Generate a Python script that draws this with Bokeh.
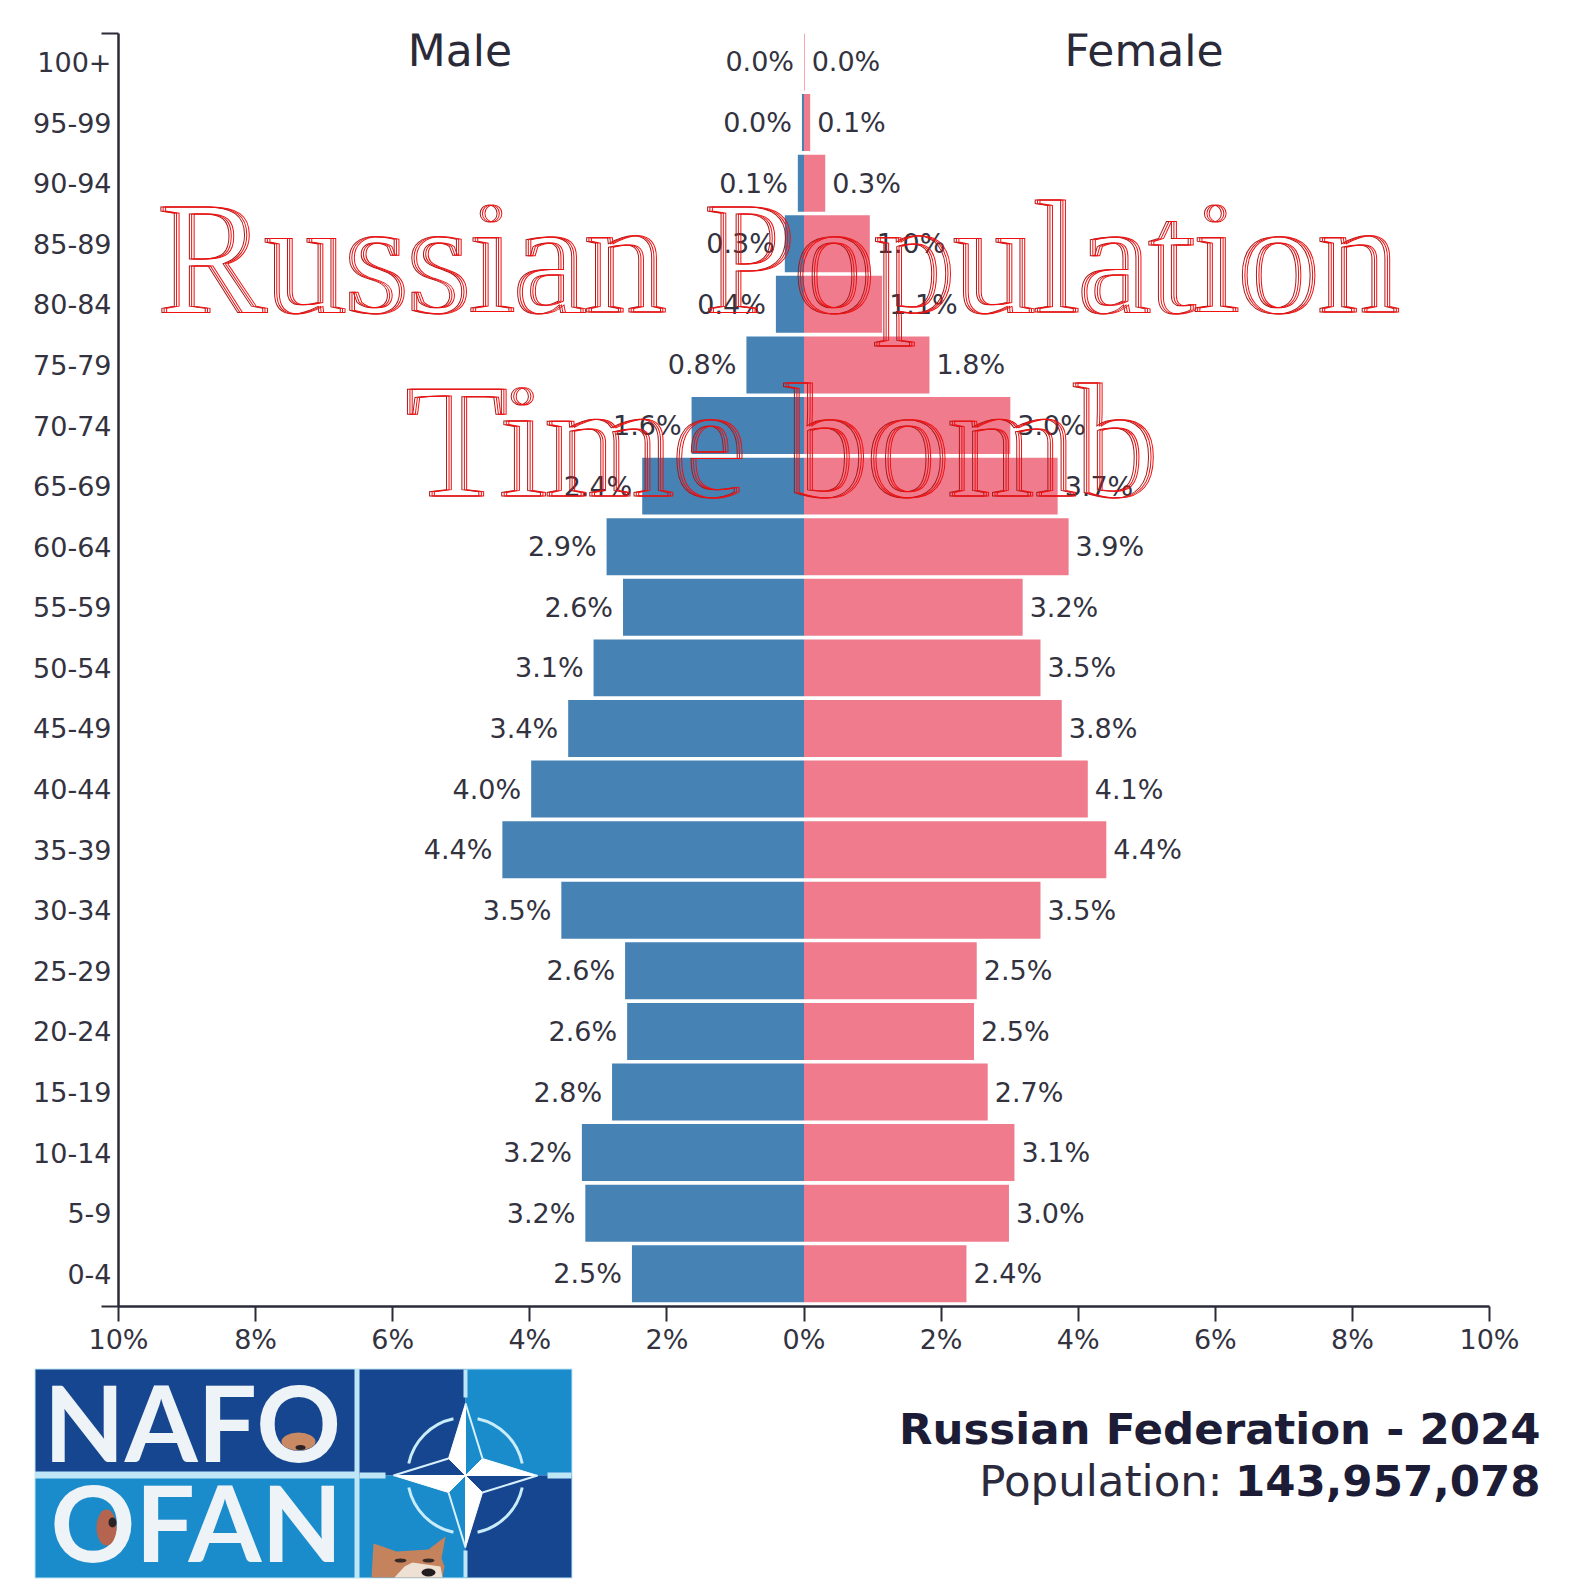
import numpy as np
from bokeh.plotting import figure
from bokeh.layouts import column
from bokeh.models import Range1d, FixedTicker, ColumnDataSource, Label
from bokeh.core.properties import value
from bokeh.embed import file_html
from bokeh.resources import INLINE

ages = ["0-4","5-9","10-14","15-19","20-24","25-29","30-34","35-39","40-44","45-49","50-54",
        "55-59","60-64","65-69","70-74","75-79","80-84","85-89","90-94","95-99","100+"]
male = [2.51,3.19,3.24,2.80,2.58,2.61,3.54,4.40,3.98,3.44,3.07,2.64,2.88,2.36,1.64,0.84,0.41,0.28,0.09,0.03,0.0]
female = [2.37,2.99,3.07,2.68,2.48,2.52,3.45,4.41,4.14,3.76,3.45,3.19,3.86,3.70,3.01,1.83,1.14,0.96,0.31,0.09,0.01]
male_labels = ["2.5%","3.2%","3.2%","2.8%","2.6%","2.6%","3.5%","4.4%","4.0%","3.4%","3.1%","2.6%","2.9%","2.4%","1.6%","0.8%","0.4%","0.3%","0.1%","0.0%","0.0%"]
female_labels = ["2.4%","3.0%","3.1%","2.7%","2.5%","2.5%","3.5%","4.4%","4.1%","3.8%","3.5%","3.2%","3.9%","3.7%","3.0%","1.8%","1.1%","1.0%","0.3%","0.1%","0.0%"]
x_ticks = [-10,-8,-6,-4,-2,0,2,4,6,8,10]
x_tick_labels = ["10%","8%","6%","4%","2%","0%","2%","4%","6%","8%","10%"]
headline = ["Russian Population", "Time bomb"]

FONT = value("DejaVu Sans")
INK = "#33333f"
AXIS = "#2a2a38"
Y0, Y1 = -0.54, 20.47

p = figure(width=1562, height=1357, frame_width=1371, frame_height=1273,
           min_border_left=118, min_border_right=73, min_border_top=33, min_border_bottom=51,
           x_range=Range1d(-10, 10), y_range=Range1d(Y0, Y1), frame_align=False,
           output_backend="svg", toolbar_location=None, outline_line_color=None)
p.grid.visible = False

ys = list(range(len(ages)))
src = ColumnDataSource(dict(y=ys, m=[-v for v in male], f=female, ml=male_labels, fl=female_labels))
p.hbar(y="y", left="m", right=0, height=0.94, source=src, fill_color="#4682b4", line_color=None)
p.hbar(y="y", left=0, right="f", height=0.94, source=src, fill_color="#ef7b8d", line_color=None)
p.text(x="m", y="y", text="ml", source=src, x_offset=-10, text_align="right", text_baseline="middle",
       text_font=FONT, text_font_size="27px", text_color=INK)
p.text(x="f", y="y", text="fl", source=src, x_offset=7, text_align="left", text_baseline="middle",
       text_font=FONT, text_font_size="27px", text_color=INK)
p.text(x=[-5.02, 4.96], y=[20.19, 20.19], text=["Male", "Female"], text_align="center", text_baseline="middle",
       text_font=FONT, text_font_size="44px", text_color="#2a2a38")

# Red outlined headline
for dx, col in [(-0.035, "#a81a1a"), (0.0, "#e81414"), (0.035, "#f01010")]:
    for txt, yy, size, cx in zip(headline, [16.76, 13.74], ["160px", "163px"], [-0.37, -0.32]):
        p.add_layout(Label(x=cx + dx, y=yy, text=txt, text_align="center", text_baseline="middle",
                           text_font="Liberation Serif", text_font_size=size,
                           text_color="#ffffff00", text_outline_color=col))

ax = p.xaxis[0]
ax.ticker = FixedTicker(ticks=x_ticks)
ax.major_label_overrides = dict(zip(x_ticks, x_tick_labels))
ax.major_tick_out = 15; ax.major_tick_in = 0
ax.minor_tick_out = 0; ax.minor_tick_in = 0
ax.major_label_standoff = 2
ax.major_label_text_font = "DejaVu Sans"; ax.major_label_text_font_size = "27px"; ax.major_label_text_color = INK
ax.axis_line_color = AXIS; ax.axis_line_width = 2.5; ax.major_tick_line_color = AXIS; ax.major_tick_line_width = 2

ay = p.yaxis[0]
ay.ticker = FixedTicker(ticks=ys, minor_ticks=[Y0, Y1])
ay.major_label_overrides = dict(zip(ys, ages))
ay.major_tick_out = 0; ay.major_tick_in = 0
ay.minor_tick_out = 17; ay.minor_tick_in = 0
ay.major_label_standoff = -10
ay.major_label_text_font = "DejaVu Sans"; ay.major_label_text_font_size = "27px"; ay.major_label_text_color = INK
ay.axis_line_color = AXIS; ay.axis_line_width = 2.5; ay.minor_tick_line_color = AXIS; ay.minor_tick_line_width = 2

# Lower strip: badge and caption
b = figure(width=1562, height=229, x_range=Range1d(0, 1562), y_range=Range1d(1586, 1357),
           min_border=0, frame_align=False, output_backend="svg", toolbar_location=None, outline_line_color=None)
b.axis.visible = False
b.grid.visible = False

CX, CY = 465, 1475
DARK, LIGHT, GAP = "#16468f", "#1a8bcb", "#bfe6f6"
b.quad(left=[34], right=[572], top=[1368], bottom=[1578], fill_color=GAP, line_color=None)
b.quad(left=[35, 35, 359, 359, CX, CX], right=[354, 354, CX, CX, 571, 571],
       top=[1369, 1478, 1369, CY, 1369, CY], bottom=[1471, 1577, CY, 1577, CY, 1577],
       fill_color=[DARK, LIGHT, DARK, LIGHT, LIGHT, DARK], line_color=None)
b.quad(left=[463, 463, 359, 547], right=[467, 467, 385, 571], top=[1369, 1550, 1472, 1472],
       bottom=[1397, 1577, 1478, 1478], fill_color=GAP, line_color=None)
b.text(x=[192, 196], y=[1420, 1520], text=["NAFO", "OFAN"], text_align="center", text_baseline="middle",
       text_font=value("Lato"), text_font_style="bold", text_font_size="105px", text_color="#eef3f7")

tip, side = 72, 17
dirs = [(0, -1), (1, 0), (0, 1), (-1, 0)]
xs_w, ys_w, xs_l, ys_l = [], [], [], []
for dx, dy in dirs:
    px_, py_ = dy, -dx
    tx, ty = CX + dx * tip, CY + dy * tip
    sx, sy = CX + (dx + px_) * side, CY + (dy + py_) * side
    ox, oy = CX + (dx - px_) * side, CY + (dy - py_) * side
    xs_w.append([tx, sx, CX]); ys_w.append([ty, sy, CY])
    xs_l.append([tx, ox]); ys_l.append([ty, oy])
b.patches(xs_w, ys_w, fill_color="#ffffff", line_color="#ffffff", line_width=1)
b.multi_line(xs_l, ys_l, line_color="#d8f0fb", line_width=2)
b.arc(x=[CX] * 4, y=[CY] * 4, radius=58, start_angle=[12, 102, 192, 282], end_angle=[78, 168, 258, 348],
      start_angle_units="deg", end_angle_units="deg", line_color="#c8ecfa", line_width=3)

# Mascot faces
b.patch([371, 373, 382, 396, 428, 445, 441, 444, 442, 371], [1577, 1543, 1546, 1551, 1549, 1536, 1558, 1566, 1577, 1577],
        fill_color="#c4835c", line_color=None)
b.patch([394, 404, 412, 440, 442, 392], [1577, 1566, 1562, 1566, 1577, 1577], fill_color="#efe0d4", line_color=None)
b.ellipse(x=[400, 428], y=[1560, 1560], width=12, height=4, fill_color="#3a2a26", line_color=None)
b.ellipse(x=[428], y=[1572], width=14, height=8, fill_color="#231c20", line_color=None)
b.ellipse(x=[298, 106], y=[1441, 1527], width=[34, 20], height=[18, 36], fill_color=["#c98a63", "#b5654f"], line_color=None)
b.ellipse(x=[300, 112], y=[1447, 1522], width=[10, 8], height=[5, 10], fill_color="#2b2226", line_color=None)

CAP = "#1c1c36"
b.text(x=[1540, 1540], y=[1428, 1480], text=["Russian Federation - 2024", "143,957,078"], text_align="right",
       text_baseline="middle", text_font=FONT, text_font_style="bold", text_font_size="43.5px", text_color=CAP)
b.text(x=[1222], y=[1480], text=["Population:"], text_align="right", text_baseline="middle",
       text_font=FONT, text_font_size="43.5px", text_color="#2b2b3d")

page = column(p, b, spacing=0)
open("out.html", "w").write(file_html(page, INLINE))
